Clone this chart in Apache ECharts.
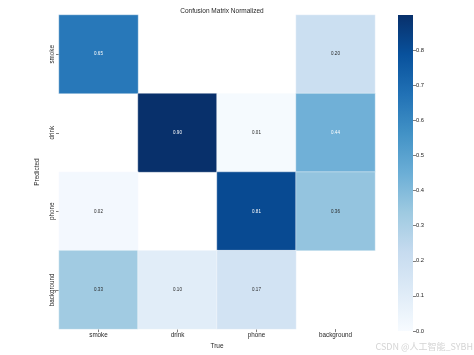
<!DOCTYPE html>
<html>
<head>
<meta charset="utf-8">
<script src="https://cdn.jsdelivr.net/npm/echarts@6/dist/echarts.min.js"></script>
<style>html,body{margin:0;padding:0;background:#fff;}#c{width:474px;height:355px;}</style>
</head>
<body>
<div id="c"></div>
<script>
// categories (True on x, Predicted on y)
var categories = ['smoke', 'drink', 'phone', 'background'];
// rows = Predicted class, columns = True class
var smokeRow = [0.65, 0, 0, 0.20];
var drinkRow = [0, 0.90, 0.01, 0.44];
var phoneRow = [0.02, 0, 0.81, 0.36];
var backgroundRow = [0.33, 0.10, 0.17, 0];
var colorbarTicks = [0.0, 0.1, 0.2, 0.3, 0.4, 0.5, 0.6, 0.7, 0.8];
var vMin = 0, vMax = 0.90;
var blues = ['#f7fbff', '#deebf7', '#c6dbef', '#9ecae1', '#6baed6', '#4292c6', '#2171b5', '#08519c', '#08306b'];

var rows = [smokeRow, drinkRow, phoneRow, backgroundRow];
var data = [];
rows.forEach(function (row, r) {
  row.forEach(function (v, c) {
    if (v >= 0.005) {
      data.push({
        value: [c, r, v],
        label: { color: (v / vMax) > 0.45 ? '#ffffff' : '#262626' }
      });
    }
  });
});

// vertical gradient for the colourbar (bottom = min, top = max)
var stops = blues.map(function (c, i) { return { offset: 1 - i / (blues.length - 1), color: c }; });
var barGradient = new echarts.graphic.LinearGradient(0, 0, 0, 1, stops.slice().reverse());

var FONT = 'Liberation Sans, Arial, sans-serif';
var chart = echarts.init(document.getElementById('c'), null, { renderer: 'canvas' });
chart.setOption({
  backgroundColor: '#ffffff',
  animation: false,
  textStyle: { fontFamily: FONT },
  title: {
    text: 'Confusion Matrix Normalized',
    left: 217, top: 3, textAlign: 'center',
    textStyle: { fontSize: 6.5, fontWeight: 'normal', color: '#262626', fontFamily: FONT }
  },
  grid: [
    { left: 59, right: 99, top: 15, bottom: 24 },
    { left: 398, width: 15, top: 15, bottom: 24 }
  ],
  xAxis: [
    {
      type: 'category', data: categories, gridIndex: 0,
      name: 'True', nameLocation: 'middle', nameGap: 13,
      nameTextStyle: { fontSize: 6.5, color: '#262626', fontFamily: FONT },
      axisLine: { show: false },
      axisTick: { show: true, alignWithLabel: true, length: 3, lineStyle: { color: '#262626', width: 0.6 } },
      axisLabel: { fontSize: 6.3, color: '#262626', margin: 3, fontFamily: FONT },
      splitLine: { show: false }
    },
    { type: 'category', gridIndex: 1, show: false, data: ['cbar'] }
  ],
  yAxis: [
    {
      type: 'category', data: categories, gridIndex: 0, inverse: true,
      name: 'Predicted', nameLocation: 'middle', nameGap: 16, nameRotate: 90,
      nameTextStyle: { fontSize: 6.5, color: '#262626', fontFamily: FONT },
      axisLine: { show: false },
      axisTick: { show: true, alignWithLabel: true, length: 3, lineStyle: { color: '#262626', width: 0.6 } },
      axisLabel: { fontSize: 6.3, color: '#262626', rotate: 90, margin: 4, fontFamily: FONT },
      splitLine: { show: false }
    },
    {
      type: 'value', gridIndex: 1, position: 'right', min: vMin, max: vMax, interval: 0.1,
      axisLine: { show: false },
      axisTick: { show: true, length: 3, customValues: colorbarTicks, lineStyle: { color: '#262626', width: 0.6 } },
      axisLabel: { fontSize: 5.8, color: '#262626', margin: 3, customValues: colorbarTicks, fontFamily: FONT,
        formatter: function (v) { return v.toFixed(1); } },
      splitLine: { show: false }
    }
  ],
  visualMap: {
    type: 'continuous', seriesIndex: 0, min: vMin, max: vMax, show: false,
    inRange: { color: blues }
  },
  graphic: [
    {
      type: 'text', right: 1, top: 342, silent: true,
      style: { text: 'CSDN @人工智能_SYBH', fontSize: 9, fill: '#d4d4d4', fontFamily: 'Noto Sans CJK SC, sans-serif' }
    }
  ],
  series: [
    {
      type: 'heatmap', xAxisIndex: 0, yAxisIndex: 0, data: data,
      itemStyle: { borderColor: '#ffffff', borderWidth: 0.4 },
      label: { show: true, fontSize: 4.5, fontFamily: FONT,
        formatter: function (p) { return p.value[2].toFixed(2); } },
      emphasis: { disabled: true }
    },
    {
      type: 'bar', xAxisIndex: 1, yAxisIndex: 1, data: [vMax], barWidth: '100%', silent: true,
      itemStyle: { color: barGradient }
    }
  ]
});
</script>
</body>
</html>
